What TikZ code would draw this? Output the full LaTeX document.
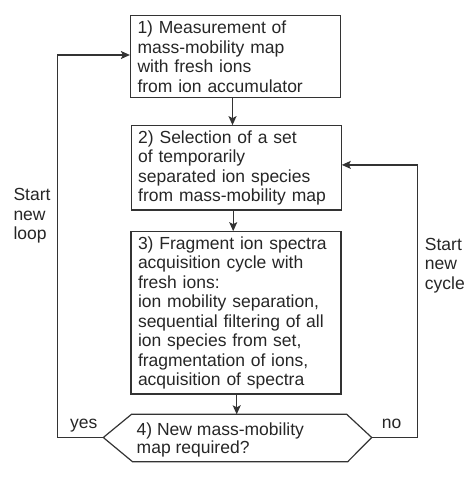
\documentclass[tikz,border=0pt]{standalone}
\usepackage{fontspec}
\setmainfont{Liberation Sans}
\usetikzlibrary{arrows.meta,calc}
\definecolor{ink}{HTML}{333333}
\definecolor{txt}{HTML}{262626}
\begin{document}
\begin{tikzpicture}[x=1pt,y=-1pt,
  font=\fontsize{17.5}{19.5}\selectfont,
  every node/.style={text=txt},
  stepbox/.style={draw=ink, line width=1.2pt, minimum width=210pt, text width=196pt, inner xsep=7pt, inner ysep=0pt, align=left},
  shapeline/.style={draw=ink, line width=1.2pt},
  arr/.style={draw=ink, line width=1.2pt, -{Stealth[length=9pt,width=8pt,inset=2pt]}},
  lbl/.style={inner sep=0pt, align=left, anchor=base west}]
\useasboundingbox (0,0) rectangle (474,481);

\node[stepbox, minimum height=82pt] (b1) at (235.5,56.5)
  {1) Measurement of\\mass-mobility map\\with fresh ions\\from ion accumulator};
\node[stepbox, minimum height=84.3pt] (b2) at (236.2,167.9)
  {2) Selection of a set\\of temporarily\\separated ion species\\from mass-mobility map};
\node[stepbox, minimum height=162.3pt] (b3) at (236,312.9)
  {3) Fragment ion spectra\\acquisition cycle with\\fresh ions:\\ion mobility separation,\\sequential filtering of all\\ion species from set,\\fragmentation of ions,\\acquisition of spectra};

\coordinate (hL) at (103.3,437.5);
\coordinate (hR) at (371.7,437.5);
\coordinate (hT) at (236.7,414.3);
\draw[shapeline] (hL) -- (131.5,414.3) -- (346.7,414.3) -- (hR) -- (347.7,461.7) -- (132.5,461.7) -- cycle;
\node[inner sep=0pt, align=left, anchor=west, font=\fontsize{17.5}{18.8}\selectfont] (d4) at (136.5,440)
  {4) New mass-mobility\\map required?};

\draw[arr] ([xshift=-3pt]b1.south) -- ([xshift=-3pt]b1.south |- b2.north);
\draw[arr] ([xshift=-3pt]b2.south) -- ([xshift=-3pt]b2.south |- b3.north);
\draw[arr] (b3.south -| hT) -- (hT);

\coordinate (lx) at (57.3,0);
\coordinate (rx) at (417.3,0);
\coordinate (in1) at ([yshift=1.5pt]b1.west);
\coordinate (in2) at ([yshift=3pt]b2.east);
\draw[arr] (hL) -| (lx |- in1) -- (in1);
\draw[arr] (hR) -| (rx |- in2) -- (in2);

\node[lbl] (sl) at (13.3,239.7) {Start\\new\\loop};
\node[lbl] (sc) at (424.7,289) {Start\\new\\cycle};
\node[lbl] (yes) at (70,428.3) {yes};
\node[lbl] (no) at (381.7,428.3) {no};
\end{tikzpicture}
\end{document}
